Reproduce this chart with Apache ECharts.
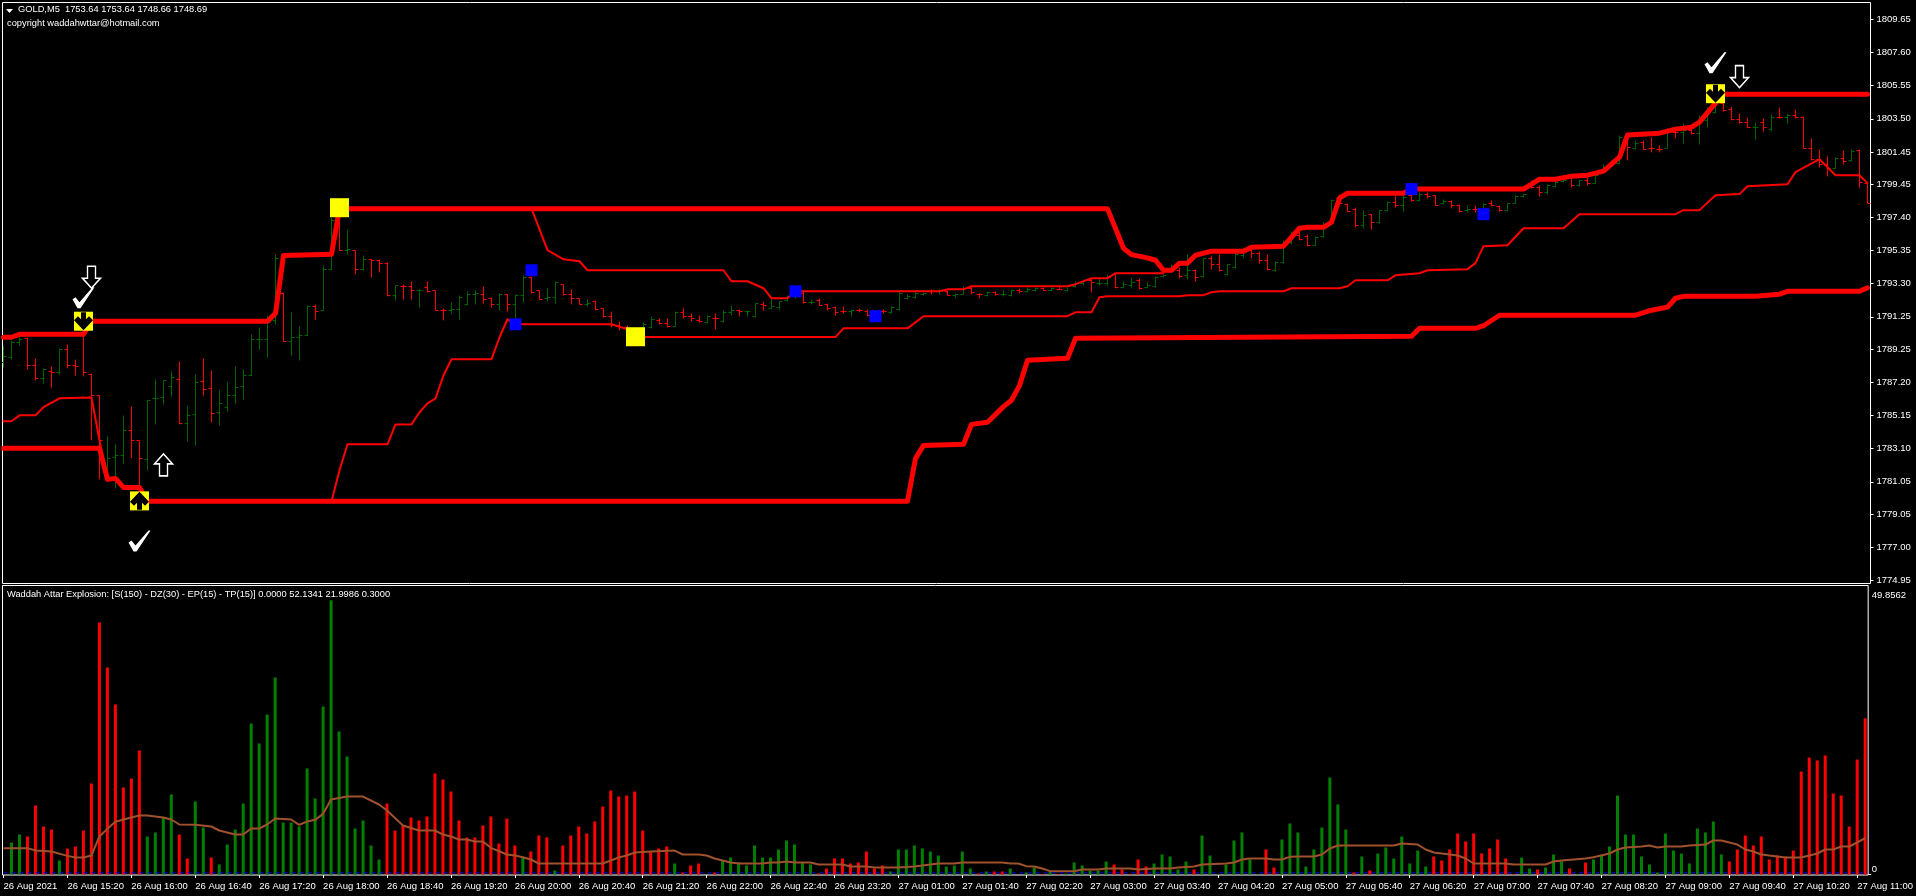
<!DOCTYPE html>
<html><head><meta charset="utf-8">
<style>html,body{margin:0;padding:0;background:#000;overflow:hidden}#c{width:1916px;height:896px}</style>
<script src="https://cdn.jsdelivr.net/npm/echarts@6/dist/echarts.min.js"></script>
</head><body><div id="c"></div>
<script>
const FONT='"Liberation Sans",Arial,sans-serif';
const tickLabels=['26 Aug 2021','26 Aug 15:20','26 Aug 16:00','26 Aug 16:40','26 Aug 17:20','26 Aug 18:00','26 Aug 18:40','26 Aug 19:20','26 Aug 20:00','26 Aug 20:40','26 Aug 21:20','26 Aug 22:00','26 Aug 22:40','26 Aug 23:20','27 Aug 01:00','27 Aug 01:40','27 Aug 02:20','27 Aug 03:00','27 Aug 03:40','27 Aug 04:20','27 Aug 05:00','27 Aug 05:40','27 Aug 06:20','27 Aug 07:00','27 Aug 07:40','27 Aug 08:20','27 Aug 09:00','27 Aug 09:40','27 Aug 10:20','27 Aug 11:00'];
const barsPerTick=8;
const priceTicks=[1809.65,1807.60,1805.55,1803.50,1801.45,1799.45,1797.40,1795.35,1793.30,1791.25,1789.25,1787.20,1785.15,1783.10,1781.05,1779.05,1777.00,1774.95];
const waeTicks=[0,49.8562];
// open, high, low, close for every 5-minute bar
const priceBars=[
[1788.46,1789.49,1788.15,1788.81],[1788.77,1789.80,1788.66,1789.70],[1789.70,1790.00,1789.49,1789.90],[1789.96,1790.00,1788.04,1788.29],[1788.29,1788.72,1787.32,1787.47],[1787.47,1788.11,1787.18,1788.05],[1787.90,1788.19,1786.91,1787.84],[1787.84,1789.32,1787.74,1789.28],[1789.28,1789.59,1788.11,1788.25],[1788.25,1788.66,1787.63,1788.24],
[1790.21,1790.42,1787.59,1787.84],[1787.74,1787.80,1783.61,1786.40],[1786.40,1786.40,1781.24,1783.61],[1781.34,1783.86,1781.34,1782.54],[1782.58,1783.40,1780.68,1782.68],[1782.68,1785.16,1782.21,1784.23],[1784.23,1785.72,1782.54,1783.61],[1783.61,1783.65,1780.72,1782.54],[1782.48,1786.13,1781.79,1786.09],[1786.25,1787.43,1784.64,1786.25],
[1786.29,1787.32,1785.88,1787.32],[1786.95,1787.88,1786.36,1787.53],[1787.43,1788.50,1784.60,1784.68],[1784.68,1785.78,1783.57,1785.16],[1785.26,1787.73,1783.32,1787.22],[1787.26,1788.72,1786.41,1786.81],[1786.87,1787.98,1784.74,1785.32],[1785.36,1786.81,1784.58,1785.92],[1785.67,1787.26,1785.40,1786.44],[1786.40,1788.19,1785.92,1786.91],
[1786.95,1788.05,1786.19,1787.63],[1787.63,1790.21,1787.63,1789.90],[1789.90,1790.62,1789.28,1789.90],[1789.90,1791.35,1788.77,1790.93],[1791.08,1795.12,1790.83,1794.88],[1792.71,1792.77,1789.74,1789.74],[1789.74,1791.55,1788.87,1790.00],[1790.00,1790.67,1788.56,1790.11],[1790.11,1791.96,1790.11,1791.90],[1791.90,1792.03,1791.14,1791.62],
[1791.66,1794.44,1791.66,1794.24],[1794.24,1797.43,1794.24,1797.23],[1797.43,1797.43,1795.37,1795.37],[1795.37,1796.67,1795.12,1795.47],[1795.41,1795.41,1793.93,1794.24],[1794.24,1795.06,1794.13,1794.85],[1794.85,1794.85,1793.72,1794.75],[1794.75,1794.85,1794.03,1794.58],[1794.58,1794.65,1792.52,1792.58],[1792.58,1793.25,1792.32,1793.20],
[1793.14,1793.31,1792.38,1793.13],[1793.14,1793.45,1792.38,1792.94],[1792.94,1793.00,1791.86,1792.94],[1793.10,1793.45,1792.79,1792.83],[1792.89,1792.89,1791.66,1791.66],[1791.70,1791.82,1791.04,1791.69],[1791.70,1792.17,1791.45,1791.72],[1791.72,1792.58,1791.14,1792.48],[1792.07,1792.85,1791.97,1792.69],[1792.69,1792.94,1792.07,1792.73],
[1792.69,1793.14,1792.11,1792.38],[1792.44,1792.48,1791.86,1792.07],[1792.07,1792.75,1791.70,1792.65],[1792.65,1792.65,1791.61,1792.03],[1792.03,1792.69,1791.04,1792.58],[1792.58,1793.86,1792.17,1793.72],[1793.72,1793.76,1792.73,1792.79],[1792.89,1792.89,1792.34,1792.38],[1792.44,1793.06,1792.23,1792.48],[1792.48,1793.45,1792.11,1793.43],
[1793.26,1793.31,1792.58,1792.69],[1792.65,1793.00,1792.03,1792.44],[1792.44,1792.44,1792.03,1792.07],[1792.07,1792.34,1791.90,1792.13],[1792.23,1792.27,1791.70,1791.74],[1791.82,1791.82,1791.24,1791.28],[1791.28,1791.59,1790.62,1790.75],[1790.75,1790.97,1790.42,1790.62],[1790.62,1790.73,1790.38,1790.52],[1790.52,1790.58,1790.42,1790.52],
[1790.62,1790.93,1790.58,1790.83],[1790.62,1791.28,1790.56,1791.14],[1791.08,1791.20,1790.79,1790.87],[1790.87,1791.20,1790.62,1790.69],[1790.69,1791.61,1790.67,1791.57],[1791.57,1791.82,1791.20,1791.28],[1791.28,1791.51,1791.00,1791.20],[1791.04,1791.39,1790.93,1791.00],[1790.93,1791.39,1790.87,1791.28],[1791.20,1791.51,1790.50,1791.19],
[1791.00,1791.66,1790.93,1791.57],[1791.57,1791.96,1791.39,1791.70],[1791.70,1791.72,1791.30,1791.61],[1791.59,1791.70,1791.30,1791.59],[1791.28,1792.13,1791.24,1792.11],[1792.07,1792.23,1791.70,1791.96],[1791.82,1792.38,1791.78,1791.90],[1791.86,1792.23,1791.72,1792.23],[1792.27,1792.58,1792.23,1792.52],[1792.52,1792.69,1792.44,1792.58],
[1792.73,1792.83,1792.11,1792.17],[1792.19,1792.34,1792.03,1792.19],[1792.32,1792.40,1791.96,1792.01],[1792.03,1792.13,1791.70,1791.80],[1791.86,1791.90,1791.39,1791.53],[1791.61,1791.90,1791.49,1791.60],[1791.61,1791.76,1791.30,1791.70],[1791.70,1791.78,1791.55,1791.66],[1791.61,1791.76,1791.28,1791.37],[1791.35,1791.61,1791.28,1791.49],
[1791.61,1791.76,1791.49,1791.60],[1791.53,1791.90,1791.49,1791.86],[1791.74,1792.79,1791.70,1792.75],[1792.44,1792.69,1792.36,1792.56],[1792.48,1792.79,1792.44,1792.75],[1792.69,1792.79,1792.58,1792.73],[1792.85,1792.95,1792.69,1792.84],[1792.85,1792.95,1792.65,1792.85],[1792.85,1792.89,1792.58,1792.62],[1792.62,1792.75,1792.44,1792.65],
[1792.69,1793.14,1792.65,1793.06],[1793.06,1793.14,1792.65,1792.79],[1792.69,1792.73,1792.44,1792.68],[1792.62,1792.83,1792.54,1792.79],[1792.81,1792.87,1792.58,1792.69],[1792.65,1792.89,1792.54,1792.69],[1792.60,1792.98,1792.54,1792.93],[1792.93,1793.04,1792.73,1792.87],[1792.85,1793.10,1792.77,1792.98],[1792.93,1793.10,1792.85,1793.02],
[1793.06,1793.10,1792.89,1792.93],[1792.93,1793.10,1792.89,1793.06],[1793.00,1793.14,1792.95,1792.99],[1792.93,1793.18,1792.85,1793.14],[1793.18,1793.45,1793.10,1793.35],[1793.35,1793.61,1793.20,1793.55],[1793.55,1793.68,1792.79,1793.41],[1793.37,1793.68,1793.24,1793.37],[1793.33,1793.92,1793.24,1793.72],[1793.88,1793.92,1793.06,1793.10],
[1793.10,1793.45,1793.04,1793.31],[1793.20,1793.72,1793.06,1793.41],[1793.51,1793.66,1792.95,1793.04],[1793.10,1793.41,1793.04,1793.20],[1793.14,1793.76,1793.10,1793.72],[1793.76,1793.92,1793.72,1793.86],[1794.09,1794.50,1794.03,1794.23],[1794.13,1794.34,1793.66,1793.76],[1793.86,1795.12,1793.61,1794.13],[1794.13,1794.23,1793.45,1793.72],
[1793.76,1794.91,1793.72,1794.87],[1794.91,1795.06,1794.19,1794.54],[1794.54,1795.12,1794.07,1794.13],[1793.88,1794.54,1793.82,1794.50],[1794.34,1795.47,1794.28,1795.12],[1795.06,1795.57,1794.89,1795.37],[1795.37,1795.57,1794.89,1795.20],[1795.20,1795.33,1794.58,1794.79],[1794.79,1795.16,1794.17,1794.23],[1794.17,1794.71,1794.09,1794.67],
[1794.63,1795.99,1794.58,1795.88],[1795.88,1796.54,1795.78,1796.30],[1796.30,1796.71,1795.99,1796.09],[1796.23,1796.36,1795.62,1795.70],[1795.72,1796.23,1795.68,1796.19],[1796.23,1797.12,1796.19,1796.91],[1797.18,1798.52,1797.12,1798.46],[1798.57,1798.87,1798.26,1798.30],[1798.21,1798.26,1797.78,1797.82],[1797.95,1798.05,1796.81,1796.91],
[1796.91,1797.84,1796.77,1797.53],[1797.60,1797.60,1796.67,1797.12],[1797.12,1797.88,1797.06,1797.84],[1797.84,1798.40,1797.80,1798.34],[1798.34,1798.71,1798.05,1798.15],[1798.15,1798.77,1797.80,1798.67],[1798.77,1798.87,1798.40,1798.46],[1798.46,1798.98,1798.40,1798.87],[1798.87,1798.98,1798.63,1798.71],[1798.77,1798.77,1798.15,1798.19],
[1798.26,1798.51,1798.22,1798.42],[1798.42,1798.47,1797.99,1798.16],[1798.16,1798.20,1797.74,1797.81],[1797.85,1798.16,1797.74,1797.93],[1797.95,1798.16,1797.74,1797.89],[1797.89,1798.30,1797.85,1798.22],[1798.26,1798.47,1798.09,1798.16],[1798.09,1798.16,1797.81,1797.85],[1797.85,1798.32,1797.81,1798.30],[1798.30,1798.77,1798.26,1798.75],
[1798.75,1798.88,1798.67,1798.84],[1799.33,1799.70,1799.19,1799.25],[1799.29,1799.39,1798.73,1798.98],[1798.98,1799.46,1798.84,1799.39],[1799.33,1799.70,1799.29,1799.60],[1799.64,1799.81,1799.60,1799.70],[1799.81,1799.81,1799.29,1799.43],[1799.43,1799.74,1799.33,1799.70],[1799.70,1799.91,1799.43,1799.54],[1799.54,1800.12,1799.50,1800.01],
[1800.22,1800.73,1800.22,1800.53],[1800.57,1800.98,1800.53,1800.90],[1800.78,1802.49,1800.73,1802.38],[1802.38,1802.38,1800.94,1801.77],[1801.72,1802.18,1801.60,1802.01],[1802.08,1802.18,1801.60,1801.66],[1801.72,1802.38,1801.46,1801.71],[1801.66,1801.87,1801.46,1801.65],[1801.72,1802.90,1801.70,1802.69],[1802.69,1802.90,1802.28,1802.68],
[1802.69,1803.21,1802.01,1802.80],[1802.80,1803.11,1802.55,1802.63],[1802.63,1803.73,1801.93,1803.62],[1803.42,1804.24,1802.96,1803.93],[1803.93,1804.55,1803.83,1804.45],[1804.45,1804.45,1803.97,1804.03],[1804.08,1804.28,1803.42,1803.46],[1803.46,1803.83,1803.21,1803.31],[1803.31,1803.62,1802.96,1803.00],[1802.96,1803.31,1802.24,1802.96],
[1803.31,1803.56,1802.76,1803.00],[1802.84,1803.79,1802.76,1803.62],[1803.62,1804.20,1803.56,1803.61],[1803.58,1803.83,1803.25,1803.73],[1803.73,1804.08,1803.52,1803.62],[1803.62,1803.66,1801.72,1801.72],[1801.72,1802.34,1800.94,1801.04],[1801.04,1801.62,1800.53,1800.69],[1800.69,1801.21,1799.97,1800.43],[1800.43,1801.15,1800.43,1801.09],
[1801.10,1801.56,1800.73,1800.90],[1800.94,1801.60,1800.90,1801.52],[1801.56,1801.60,1799.29,1799.60],[1799.50,1799.50,1798.30,1798.30]
];
// vertices: [bar index, price]
const upperStopA=[[0,1789.99],[1,1789.99],[2,1790.17],[10,1790.17],[11,1790.98],[33,1790.98],[34,1791.47],[35,1795.05],[41,1795.12],[42,1797.94],[138,1797.94],[140,1795.49],[141,1795.10],[143,1794.90],[144,1794.75],[145,1794.13],[146,1794.13],[147,1794.57],[148,1794.57],[149,1795.06],[151,1795.31],[155,1795.31],[156,1795.56],[160,1795.62],[162,1796.73],[163,1796.79],[165,1796.79],[166,1797.10],[167,1798.59],[168,1798.90],[175,1798.90],[176,1799.15],[190,1799.15],[192,1799.76],[194,1799.76],[196,1799.95],[198,1800.01],[200,1800.26],[202,1801.13],[203,1802.49],[207,1802.61],[209,1802.86],[211,1802.98],[212,1803.29],[214,1804.47]];
const upperStopB=[[215,1805.01],[233,1805.01]];
const lowerStop=[[0,1783.12],[12,1783.12],[13,1781.20],[14,1781.26],[15,1780.70],[17,1780.70],[18,1779.84],[113,1779.84],[114,1782.50],[115,1783.30],[120,1783.37],[121,1784.60],[123,1784.73],[125,1785.70],[126,1786.09],[127,1787.00],[128,1788.56],[133,1788.69],[134,1789.92],[176,1790.05],[177,1790.54],[184,1790.54],[185,1790.70],[187,1791.35],[204,1791.35],[206,1791.66],[208,1791.85],[209,1792.40],[210,1792.52],[219,1792.52],[222,1792.65],[223,1792.83],[232,1792.83],[233,1793.05]];
const midLine=[[0,1784.79],[1,1784.79],[2,1785.16],[4,1785.16],[5,1785.66],[7,1786.21],[11,1786.27],[12,1783.60],[13,1781.20],[14,1781.26],[15,1780.70],[17,1780.70],[18,1779.84],[41,1779.84],[42,1781.76],[43,1783.37],[48,1783.37],[49,1784.60],[51,1784.60],[52,1785.35],[53,1785.90],[54,1786.21],[55,1787.64],[56,1788.63],[61,1788.63],[62,1789.99],[63,1791.10],[64,1790.79],[76,1790.79],[78,1790.48],[79,1790.00],[104,1790.00],[105,1790.54],[113,1790.54],[115,1791.29],[133,1791.29],[134,1791.53],[136,1791.53],[137,1792.46],[138,1792.52],[147,1792.52],[148,1792.59],[150,1792.59],[151,1792.77],[152,1792.83],[160,1792.83],[161,1793.02],[167,1793.02],[168,1793.14],[169,1793.51],[173,1793.51],[174,1793.82],[177,1793.95],[178,1794.13],[183,1794.20],[184,1794.57],[185,1795.62],[188,1795.68],[190,1796.73],[195,1796.73],[197,1797.60],[209,1797.60],[210,1797.85],[212,1797.85],[214,1798.77],[217,1798.84],[218,1799.33],[223,1799.45],[224,1800.20],[227,1801.00],[229,1800.01],[232,1800.01],[233,1799.52]];
const upperThin=[[66,1797.94],[68,1795.37],[70,1794.81],[72,1794.69],[73,1794.13],[90,1794.13],[91,1793.45],[93,1793.45],[95,1793.02],[96,1792.40],[98,1792.40],[99,1792.83],[117,1792.83],[118,1792.95],[120,1792.95],[121,1793.14],[133,1793.14],[134,1793.27],[136,1793.64],[138,1793.64],[139,1793.95],[145,1793.95]];
const yellowSquares=[[10,1790.98],[17,1779.87],[42,1798.00],[79,1790.02],[214,1805.05]];
const blueSquares=[[64,1790.79],[66,1794.13],[99,1792.83],[109,1791.29],[176,1799.15],[185,1797.60]];
const downChevrons=[[10,1790.98],[214,1805.05]];
const upChevrons=[[17,1779.87]];
const downArrows=[[11,1793.70],[217,1806.11]];
const upArrows=[[20,1782.10]];
const checkMarks=[[10,1792.43],[17,1777.39],[214,1806.97]];
// histogram: positive = green bar, negative = red bar
const waeBars=[0,5.82,7.27,-6.91,-12.55,-8.73,-8.18,2.55,-4.73,-5.09,-8.00,-16.55,-45.82,-37.64,-30.91,-15.82,-17.45,-22.55,6.91,7.64,10.36,14.55,-7.27,-2.91,13.27,8.55,-3.09,1.82,5.45,8.18,12.91,27.45,23.82,29.09,35.82,9.45,9.45,8.73,19.27,13.82,30.55,49.86,26.00,21.45,8.36,9.82,5.27,2.73,-12.91,-8.00,-8.91,-10.36,-9.82,-10.55,-18.36,-17.27,-15.09,-9.82,-6.73,-6.73,
-8.91,-10.55,-5.64,-10.18,-5.27,3.15,-4.18,-7.09,-6.73,0.73,-5.27,-7.09,-8.73,-7.45,-9.64,-12.36,-15.27,-14.18,-14.36,-15.09,-8.00,-4.18,-4.73,-5.09,2.00,-0.36,-1.64,-2.00,0,-0.36,2.55,3.09,2.18,1.64,5.27,3.09,3.09,4.55,6.18,5.45,2.18,1.82,-0.20,-1.09,-2.91,-2.91,-2.00,-2.18,-4.18,-1.09,-1.64,0.55,4.55,4.55,5.27,4.73,4.18,3.45,1.45,1.64,
4.18,1.09,-0.18,0.55,-0.55,-0.55,1.09,0,0.36,1.27,-0.10,0.55,-0.10,0.18,2.18,1.64,0.73,0.73,2.36,-1.82,-0.91,-0.10,-2.73,-1.45,2.00,3.64,3.27,0.91,2.36,-0.91,7.09,3.45,0.10,1.82,6.18,7.64,2.73,0.10,-4.55,-1.27,6.36,9.27,7.64,1.45,4.55,8.55,17.64,12.73,8.18,-0.36,3.27,-0.73,3.82,4.91,2.91,6.91,2.00,4.36,1.45,-3.27,
-2.55,-4.55,-7.45,-6.00,-7.45,-3.82,-4.73,-6.36,-2.91,-0.10,3.09,1.09,-0.91,1.27,3.64,2.36,-1.09,0.10,-2.18,2.73,3.45,5.09,14.36,7.27,7.27,3.27,1.82,0.36,7.45,4.36,3.82,2.00,8.36,7.64,9.64,3.64,-2.36,-4.55,-7.09,-5.27,-6.91,-2.73,-3.45,-3.27,-4.36,-18.73,-21.27,-20.73,-21.64,-14.73,-14.36,-8.73,-20.91,-28.40];
const explosionLine=[[0,4.79],[2,4.79],[3,4.79],[4,4.36],[6,4.18],[8,3.39],[9,3.09],[10,3.09],[11,3.45],[12,6.91],[13,8.30],[14,9.58],[16,10.36],[17,10.73],[18,10.73],[20,10.36],[21,10.00],[22,9.09],[24,9.03],[26,8.73],[27,8.00],[28,7.64],[29,7.27],[30,7.27],[31,8.36],[32,8.36],[33,9.09],[34,10.18],[36,10.00],[37,9.03],[38,9.64],[39,9.94],[40,11.03],[41,13.64],[43,14.18],[45,14.18],[47,12.73],[48,11.64],[50,8.91],[52,8.00],[54,8.00],[55,7.27],[56,6.91],[57,6.36],[58,6.36],[59,6.00],[60,6.00],[61,4.85],[63,3.64],[64,3.45],[65,3.15],[66,2.73],[67,2.00],[75,2.00],[76,2.55],[77,3.09],[78,3.45],[79,4.00],[81,4.18],[84,4.36],[85,3.64],[87,3.64],[88,3.45],[89,2.91],[91,2.18],[92,2.00],[95,2.00],[96,2.18],[97,2.18],[98,2.36],[99,2.18],[101,2.18],[102,1.82],[105,1.82],[106,1.45],[108,1.45],[109,1.27],[112,1.27],[114,1.45],[116,1.82],[117,2.00],[119,2.00],[120,2.18],[125,2.18],[126,2.00],[127,2.00],[128,1.52],[129,1.45],[130,1.09],[131,0.61],[134,0.61],[135,0.91],[137,0.91],[138,1.09],[141,1.09],[142,0.91],[144,1.09],[146,1.09],[147,1.27],[149,1.45],[150,1.82],[153,2.00],[154,2.18],[155,2.73],[156,2.91],[158,2.91],[159,2.73],[160,2.73],[161,3.21],[162,3.27],[164,3.27],[165,3.64],[166,4.73],[167,5.27],[174,5.27],[175,5.64],[177,5.45],[178,4.55],[179,4.00],[180,3.82],[181,3.64],[182,3.45],[183,2.91],[184,2.00],[188,2.00],[189,1.82],[193,1.82],[194,2.36],[195,2.55],[198,2.91],[199,3.15],[201,3.82],[202,4.55],[203,4.91],[205,5.09],[206,5.27],[207,4.91],[208,5.09],[210,5.09],[211,5.27],[213,5.45],[214,6.18],[215,6.18],[216,5.82],[217,5.45],[218,4.55],[219,4.18],[220,3.64],[221,3.45],[222,3.27],[223,3.09],[225,3.09],[226,3.45],[227,3.82],[228,4.55],[229,4.55],[230,5.09],[231,5.09],[232,5.82],[233,6.61]];
const deadZone=[[0,0.3],[233,0.3]];

const RED='#ff0000',BAR_GREEN='#006400',HIST_GREEN='#008000';
const CHEVRON_DOWN='path://M7 0L12 0L12 7L15 4L19 8L9.5 18L0 8L4 4L7 7Z';
const ARROW_DOWN='path://M5 0H13V12H18L9 22L0 12H5Z';
const CHECK='path://M0 12L3 10L7 15L20 0L22 0L8 21L5 21Z';
const tickVals=tickLabels.map((_,i)=>i*barsPerTick);
const band=(data,width,name)=>({name,type:'line',xAxisIndex:0,yAxisIndex:0,data,showSymbol:false,silent:true,z:5,
  lineStyle:{color:RED,width,join:'round',cap:'round'}});
const marks=(data,symbol,size,style,extra)=>Object.assign({type:'scatter',xAxisIndex:0,yAxisIndex:0,data,symbol,symbolSize:size,itemStyle:Object.assign({opacity:1},style),silent:true,z:8},extra||{});

const chart=echarts.init(document.getElementById('c'),null,{renderer:'canvas',width:1916,height:896});
chart.setOption({
 animation:false,backgroundColor:'#000',
 textStyle:{fontFamily:FONT},
 title:[
  {text:'GOLD,M5  1753.64 1753.64 1748.66 1748.69',left:18,top:5,padding:0,textStyle:{color:'#fff',fontSize:9.3,fontWeight:'normal',fontFamily:FONT}},
  {text:'copyright waddahwttar@hotmail.com',left:7,top:18.5,padding:0,textStyle:{color:'#fff',fontSize:9.3,fontWeight:'normal',fontFamily:FONT}},
  {text:'Waddah Attar Explosion: [S(150) - DZ(30) - EP(15) - TP(15)] 0.0000 52.1341 21.9986 0.3000',left:7,top:589.5,padding:0,textStyle:{color:'#fff',fontSize:9.3,fontWeight:'normal',fontFamily:FONT}}
 ],
 graphic:[{type:'polygon',shape:{points:[[6,9],[13,9],[9.5,13]]},style:{fill:'#fff'},silent:true}],
 grid:[
  {left:2.5,top:2.5,width:1868,height:581,show:true,borderColor:'#fff',borderWidth:1,backgroundColor:'#000'},
  {left:2.5,top:585.5,width:1868,height:289.5,show:true,borderColor:'#fff',borderWidth:1,backgroundColor:'#000'}
 ],
 xAxis:[
  {type:'value',gridIndex:0,min:-0.125,max:233.375,axisLine:{show:false,onZero:false},axisTick:{show:false},axisLabel:{show:false},splitLine:{show:false}},
  {type:'value',gridIndex:1,min:-0.125,max:233.375,axisLine:{show:false,onZero:false},splitLine:{show:false},
   axisTick:{show:true,length:3,lineStyle:{color:'#fff'},customValues:tickVals},
   axisLabel:{color:'#fff',fontSize:9.5,fontFamily:FONT,align:'left',margin:6,customValues:tickVals,formatter:v=>tickLabels[Math.round(v/barsPerTick)]}}
 ],
 yAxis:[
  {type:'value',gridIndex:0,position:'right',min:1774.76,max:1810.69,axisLine:{show:false,onZero:false},splitLine:{show:false},
   axisTick:{show:true,length:3,lineStyle:{color:'#fff'},customValues:priceTicks},
   axisLabel:{color:'#fff',fontSize:9.5,fontFamily:FONT,margin:6,customValues:priceTicks,formatter:v=>v.toFixed(2)}},
  {type:'value',gridIndex:1,position:'right',min:-0.09,max:52.55,axisLine:{show:false,onZero:false},splitLine:{show:false},
   axisTick:{show:true,length:3,lineStyle:{color:'#fff'},customValues:[0]},
   axisLabel:{color:'#fff',fontSize:9.5,fontFamily:FONT,margin:3.5,verticalAlign:'bottom',customValues:waeTicks,formatter:v=>v===0?'0':v.toFixed(4)}}
 ],
 series:[
  {name:'GOLD,M5',type:'custom',xAxisIndex:0,yAxisIndex:0,silent:true,z:2,clip:true,
   data:priceBars.map((b,i)=>[i].concat(b)),encode:{x:0,y:[1,2,3,4]},
   renderItem:function(params,api){
     const i=api.value(0),o=api.value(1),h=api.value(2),l=api.value(3),c=api.value(4);
     const color=c>=o?BAR_GREEN:RED;
     const snap=p=>[p[0],Math.round(p[1])+0.5];
     const po=snap(api.coord([i,o])),ph=snap(api.coord([i,h])),pl=snap(api.coord([i,l])),pc=snap(api.coord([i,c]));
     const st={stroke:color,lineWidth:1,fill:null};
     return {type:'group',children:[
       {type:'line',shape:{x1:ph[0],y1:ph[1],x2:pl[0],y2:pl[1]},style:st},
       {type:'line',shape:{x1:po[0]-3,y1:po[1],x2:po[0],y2:po[1]},style:st},
       {type:'line',shape:{x1:pc[0],y1:pc[1],x2:pc[0]+3,y2:pc[1]},style:st}
     ]};
   }},
  band(midLine,2,'mid'),
  band(upperThin,2,'upperThin'),
  band(upperStopA,5,'upperA'),
  band(upperStopB,5,'upperB'),
  band(lowerStop,5,'lower'),
  marks(yellowSquares,'rect',19,{color:'#ffff00'}),
  marks(blueSquares,'rect',12,{color:'#0000ff'}),
  marks(downChevrons,CHEVRON_DOWN,[19,18],{color:'#000'},{z:9}),
  marks(upChevrons,CHEVRON_DOWN,[19,18],{color:'#000'},{z:9,symbolRotate:180}),
  marks(downArrows,ARROW_DOWN,[18,22],{color:'#000',borderColor:'#fff',borderWidth:1.5},{z:9}),
  marks(upArrows,ARROW_DOWN,[18,22],{color:'#000',borderColor:'#fff',borderWidth:1.5},{z:9,symbolRotate:180}),
  marks(checkMarks,CHECK,[22,21],{color:'#fff'},{z:10}),
  {name:'up',type:'bar',xAxisIndex:1,yAxisIndex:1,barWidth:3,barGap:'-100%',silent:true,z:2,
   itemStyle:{color:HIST_GREEN},data:waeBars.map((v,i)=>[i,v>0?v:0])},
  {name:'down',type:'bar',xAxisIndex:1,yAxisIndex:1,barWidth:3,barGap:'-100%',silent:true,z:2,
   itemStyle:{color:RED},data:waeBars.map((v,i)=>[i,v<0?-v:0])},
  {name:'explosion',type:'line',xAxisIndex:1,yAxisIndex:1,data:explosionLine,showSymbol:false,silent:true,z:4,
   lineStyle:{color:'#a0522d',width:2}},
  {name:'deadzone',type:'line',xAxisIndex:1,yAxisIndex:1,data:deadZone,showSymbol:false,silent:true,z:5,
   lineStyle:{color:'#0000ff',width:1,type:[4,4]}}
 ]
});
</script></body></html>
